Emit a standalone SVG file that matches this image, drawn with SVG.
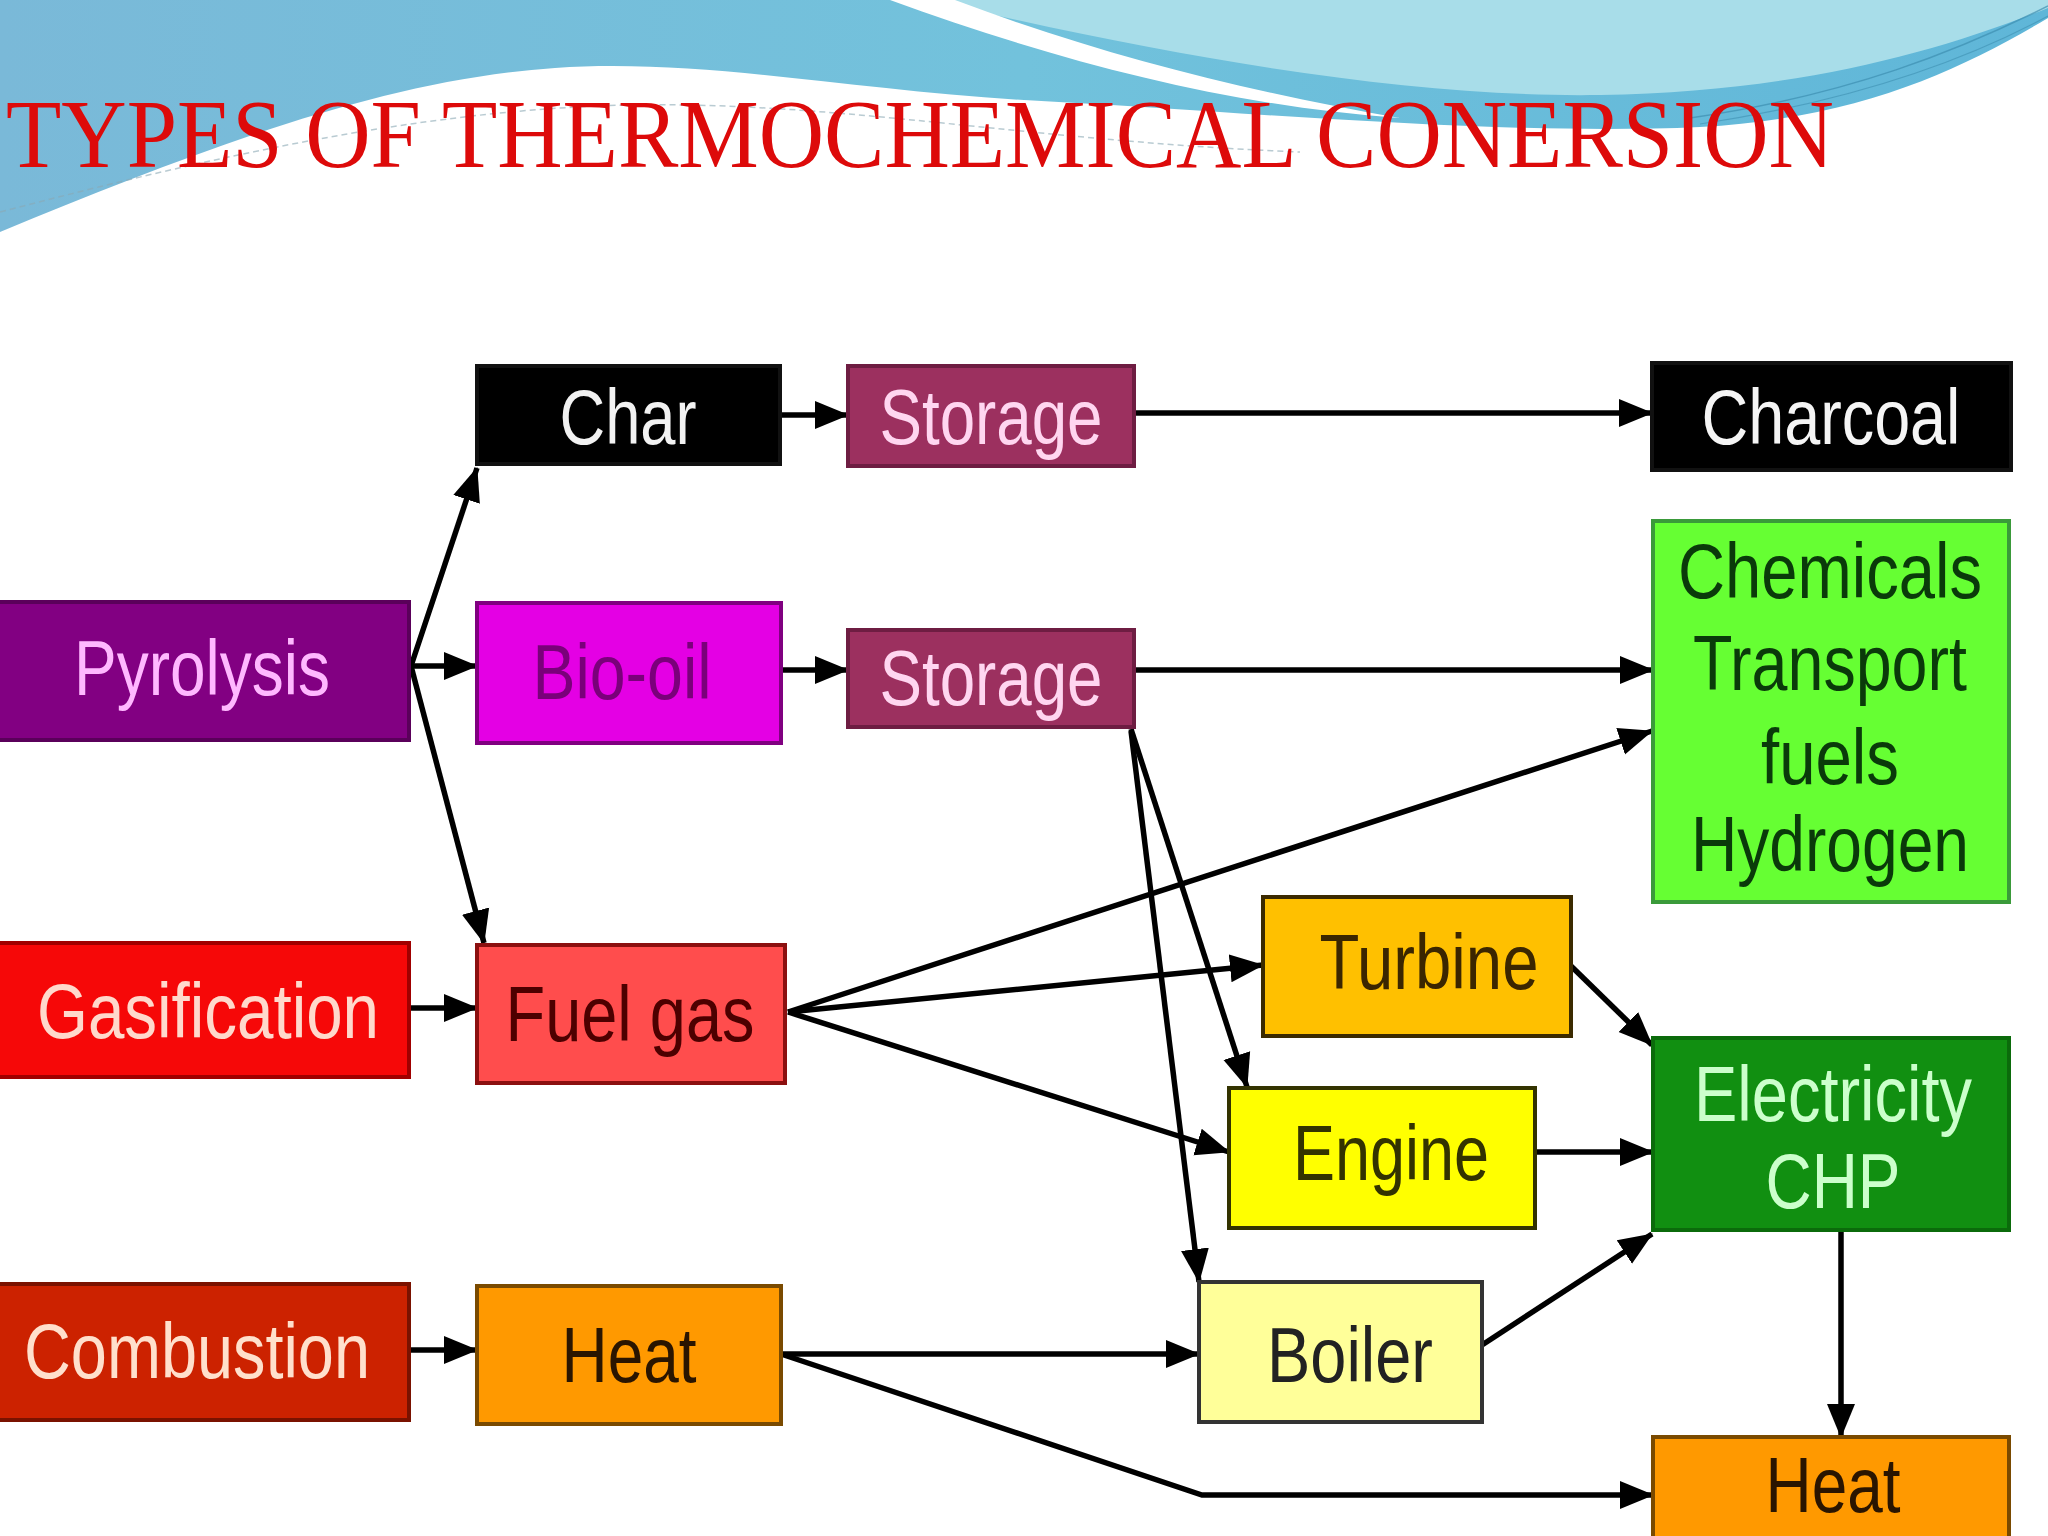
<svg xmlns="http://www.w3.org/2000/svg" width="2048" height="1536" viewBox="0 0 2048 1536">
  <defs>
    <linearGradient id="bgBlue" x1="0" y1="0" x2="1" y2="0">
      <stop offset="0" stop-color="#7ab9d8"/>
      <stop offset="0.5" stop-color="#72c2dc"/>
      <stop offset="1" stop-color="#5fb6d8"/>
    </linearGradient>
    <marker id="arr" markerUnits="userSpaceOnUse" markerWidth="36" markerHeight="32" refX="33" refY="16" orient="auto" viewBox="0 0 36 32">
      <path d="M0,2 L34,16 L0,30 Z" fill="#000"/>
    </marker>
    <style>
      .node rect { stroke-width: 4; }
      .lbl { font-family: "Liberation Sans", Arial, sans-serif; font-size: 77px; text-anchor: middle; }
      .conn { fill: none; stroke: #000; stroke-width: 5.5; marker-end: url(#arr); }
      .title { font-family: "Liberation Serif", "Times New Roman", serif; font-size: 98px; fill: #dd0a0a; }
    </style>
  </defs>

  <!-- background -->
  <rect x="0" y="0" width="2048" height="1536" fill="#ffffff"/>
  <g id="background">
    <path d="M0,0 H2048 V18 C1960,70 1860,118 1700,127 C1500,136 1250,112 1024,100 C850,90 700,58 555,68 C380,80 200,150 0,232 Z" fill="url(#bgBlue)"/>
    <path d="M930,0 H2048 V8 C1930,55 1790,92 1600,95 C1420,98 1180,60 930,0 Z" fill="#a8dde9"/>
    <path d="M890,0 L955,0 C1100,55 1250,92 1400,118 C1230,106 1060,62 890,0 Z" fill="#ffffff"/>
    <path d="M1690,118 C1850,95 1960,50 2048,6" fill="none" stroke="#3d8fb0" stroke-width="1.5" opacity="0.7"/>
    <path d="M1700,124 C1860,100 1970,58 2048,16" fill="none" stroke="#3d8fb0" stroke-width="1.2" opacity="0.6"/>
    <path d="M0,212 C200,160 380,120 560,108 C800,92 1000,140 1300,152" fill="none" stroke="#8aa8b4" stroke-width="1.5" stroke-dasharray="6,4" opacity="0.6"/>
  </g>

  <text class="title" x="6" y="167" textLength="1828" lengthAdjust="spacingAndGlyphs">TYPES OF THERMOCHEMICAL CONERSION</text>

  <!-- connectors -->
  <g id="connectors">
    <line class="conn" x1="780" y1="415" x2="848" y2="415"/>
    <line class="conn" x1="1134" y1="413" x2="1652" y2="413"/>
    <line class="conn" x1="411" y1="666" x2="477" y2="468"/>
    <line class="conn" x1="411" y1="666" x2="477" y2="666"/>
    <line class="conn" x1="411" y1="666" x2="484" y2="943"/>
    <line class="conn" x1="781" y1="670" x2="848" y2="670"/>
    <line class="conn" x1="1134" y1="670" x2="1653" y2="670"/>
    <line class="conn" x1="1131" y1="729" x2="1247" y2="1087"/>
    <line class="conn" x1="1131" y1="731" x2="1199" y2="1282"/>
    <line class="conn" x1="788" y1="1012" x2="1652" y2="731"/>
    <line class="conn" x1="788" y1="1012" x2="1263" y2="965"/>
    <line class="conn" x1="788" y1="1012" x2="1229" y2="1152"/>
    <line class="conn" x1="409" y1="1008" x2="477" y2="1008"/>
    <line class="conn" x1="1571" y1="966" x2="1652" y2="1045"/>
    <line class="conn" x1="1535" y1="1152" x2="1653" y2="1152"/>
    <line class="conn" x1="1482" y1="1345" x2="1652" y2="1234"/>
    <line class="conn" x1="409" y1="1350" x2="477" y2="1350"/>
    <line class="conn" x1="781" y1="1354" x2="1199" y2="1354"/>
    <path class="conn" d="M781,1354 L1202,1495 L1653,1495"/>
    <line class="conn" x1="1841" y1="1232" x2="1841" y2="1437"/>
  </g>

  <!-- nodes -->
  <g id="char" class="node">
    <rect x="477" y="366" width="303" height="98" fill="#000000" stroke="#111"/>
    <text class="lbl" x="628" y="444" fill="#f2f2f2" textLength="137" lengthAdjust="spacingAndGlyphs">Char</text>
  </g>
  <g id="storage1" class="node">
    <rect x="848" y="366" width="286" height="100" fill="#9c305f" stroke="#6e1d42"/>
    <text class="lbl" x="991" y="444" fill="#ffd6f0" textLength="223" lengthAdjust="spacingAndGlyphs">Storage</text>
  </g>
  <g id="charcoal" class="node">
    <rect x="1652" y="363" width="359" height="107" fill="#000000" stroke="#111"/>
    <text class="lbl" x="1831" y="444" fill="#f5f5f5" textLength="259" lengthAdjust="spacingAndGlyphs">Charcoal</text>
  </g>
  <g id="pyrolysis" class="node">
    <rect x="-10" y="602" width="419" height="138" fill="#820082" stroke="#5a005a"/>
    <text class="lbl" x="202" y="695" fill="#ffb8ff" textLength="256" lengthAdjust="spacingAndGlyphs">Pyrolysis</text>
  </g>
  <g id="biooil" class="node">
    <rect x="477" y="603" width="304" height="140" fill="#e400e4" stroke="#800080"/>
    <text class="lbl" x="622" y="699" fill="#7a007a" textLength="179" lengthAdjust="spacingAndGlyphs">Bio-oil</text>
  </g>
  <g id="storage2" class="node">
    <rect x="848" y="630" width="286" height="97" fill="#9c305f" stroke="#6e1d42"/>
    <text class="lbl" x="991" y="705" fill="#ffd6f0" textLength="223" lengthAdjust="spacingAndGlyphs">Storage</text>
  </g>
  <g id="chemicals" class="node">
    <rect x="1653" y="521" width="356" height="381" fill="#66ff33" stroke="#3a9a3a"/>
    <text class="lbl" x="1830" y="598" fill="#0a3a0a" textLength="304" lengthAdjust="spacingAndGlyphs">Chemicals</text>
    <text class="lbl" x="1830" y="690" fill="#0a3a0a" textLength="274" lengthAdjust="spacingAndGlyphs">Transport</text>
    <text class="lbl" x="1830" y="784" fill="#0a3a0a" textLength="138" lengthAdjust="spacingAndGlyphs">fuels</text>
    <text class="lbl" x="1830" y="871" fill="#0a3a0a" textLength="278" lengthAdjust="spacingAndGlyphs">Hydrogen</text>
  </g>
  <g id="turbine" class="node">
    <rect x="1263" y="897" width="308" height="139" fill="#ffc000" stroke="#3b2a00"/>
    <text class="lbl" x="1429" y="989" fill="#3b2600" textLength="219" lengthAdjust="spacingAndGlyphs">Turbine</text>
  </g>
  <g id="gasification" class="node">
    <rect x="-10" y="943" width="419" height="134" fill="#f60808" stroke="#a00000"/>
    <text class="lbl" x="208" y="1038" fill="#ffd9cc" textLength="342" lengthAdjust="spacingAndGlyphs">Gasification</text>
  </g>
  <g id="fuelgas" class="node">
    <rect x="477" y="945" width="308" height="138" fill="#ff4d4d" stroke="#8b1010"/>
    <text class="lbl" x="630" y="1041" fill="#4d0000" textLength="249" lengthAdjust="spacingAndGlyphs">Fuel gas</text>
  </g>
  <g id="engine" class="node">
    <rect x="1229" y="1088" width="306" height="140" fill="#ffff00" stroke="#333300"/>
    <text class="lbl" x="1391" y="1180" fill="#333300" textLength="196" lengthAdjust="spacingAndGlyphs">Engine</text>
  </g>
  <g id="electricity" class="node">
    <rect x="1653" y="1038" width="356" height="192" fill="#118f11" stroke="#0b6b0b"/>
    <text class="lbl" x="1833" y="1121" fill="#ccffcc" textLength="278" lengthAdjust="spacingAndGlyphs">Electricity</text>
    <text class="lbl" x="1833" y="1208" fill="#ccffcc" textLength="135" lengthAdjust="spacingAndGlyphs">CHP</text>
  </g>
  <g id="combustion" class="node">
    <rect x="-10" y="1284" width="419" height="136" fill="#cc2200" stroke="#7a1200"/>
    <text class="lbl" x="197" y="1378" fill="#ffe0cc" textLength="346" lengthAdjust="spacingAndGlyphs">Combustion</text>
  </g>
  <g id="heat1" class="node">
    <rect x="477" y="1286" width="304" height="138" fill="#ff9900" stroke="#7a4a00"/>
    <text class="lbl" x="629" y="1382" fill="#2a1500" textLength="135" lengthAdjust="spacingAndGlyphs">Heat</text>
  </g>
  <g id="boiler" class="node">
    <rect x="1199" y="1282" width="283" height="140" fill="#ffff99" stroke="#333333"/>
    <text class="lbl" x="1350" y="1382" fill="#222222" textLength="166" lengthAdjust="spacingAndGlyphs">Boiler</text>
  </g>
  <g id="heat2" class="node">
    <rect x="1653" y="1437" width="356" height="110" fill="#ff9900" stroke="#7a4a00"/>
    <text class="lbl" x="1833" y="1512" fill="#2a1500" textLength="135" lengthAdjust="spacingAndGlyphs">Heat</text>
  </g>
</svg>
